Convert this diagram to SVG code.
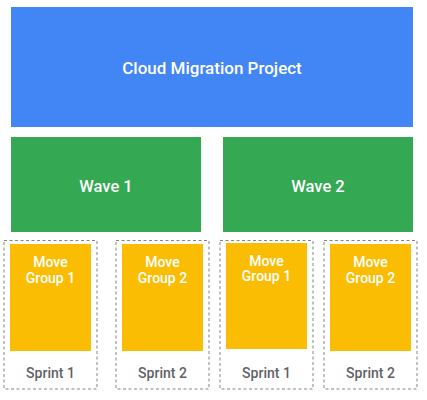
<svg xmlns="http://www.w3.org/2000/svg" width="427" height="400" viewBox="0 0 427 400">
<style>
.t{font-family:Roboto,"Open Sans",sans-serif;font-weight:500;text-anchor:middle;dominant-baseline:central}
.w{fill:#ffffff}
.m{font-size:14px}
.g{fill:#5f6368;font-size:14px}
.dash{fill:none;stroke:#80868b;stroke-width:1;stroke-dasharray:3,2.5}
</style>
<rect width="427" height="400" fill="#ffffff"/>
<g id="project">
<rect x="11" y="7" width="402" height="120" fill="#4285F4"/>
<text class="t w" x="212" y="68" font-size="17">Cloud Migration Project</text>
</g>
<g id="wave1">
<rect x="11" y="137" width="190" height="95" fill="#34A853"/>
<text class="t w" x="106" y="186" font-size="16.5">Wave 1</text>
</g>
<g id="wave2">
<rect x="223" y="137" width="190" height="95" fill="#34A853"/>
<text class="t w" x="318" y="186" font-size="16.5">Wave 2</text>
</g>
<g id="sprint1a">
<rect class="dash" x="4" y="240.5" width="93" height="148.5"/>
<text class="t g" x="50.5" y="373">Sprint 1</text>
</g>
<g id="mg1a">
<rect x="10" y="244" width="81" height="107" fill="#FBBC04"/>
<text class="t w m" x="50.5" y="262">Move</text>
<text class="t w m" x="50.5" y="278">Group 1</text>
</g>
<g id="sprint2a">
<rect class="dash" x="116" y="240.5" width="93" height="148.5"/>
<text class="t g" x="162.5" y="373">Sprint 2</text>
</g>
<g id="mg2a">
<rect x="122" y="244" width="81" height="107" fill="#FBBC04"/>
<text class="t w m" x="162.5" y="262">Move</text>
<text class="t w m" x="162.5" y="278">Group 2</text>
</g>
<g id="sprint1b">
<rect class="dash" x="220" y="240.5" width="93" height="148.5"/>
<text class="t g" x="266.5" y="373">Sprint 1</text>
</g>
<g id="mg1b">
<rect x="226" y="243" width="81" height="106" fill="#FBBC04"/>
<text class="t w m" x="266.5" y="261">Move</text>
<text class="t w m" x="266.5" y="276">Group 1</text>
</g>
<g id="sprint2b">
<rect class="dash" x="324" y="240.5" width="93" height="148.5"/>
<text class="t g" x="370.5" y="373">Sprint 2</text>
</g>
<g id="mg2b">
<rect x="330" y="244" width="81" height="107" fill="#FBBC04"/>
<text class="t w m" x="370.5" y="262">Move</text>
<text class="t w m" x="370.5" y="278">Group 2</text>
</g>
<g id="connectors"></g>
</svg>
